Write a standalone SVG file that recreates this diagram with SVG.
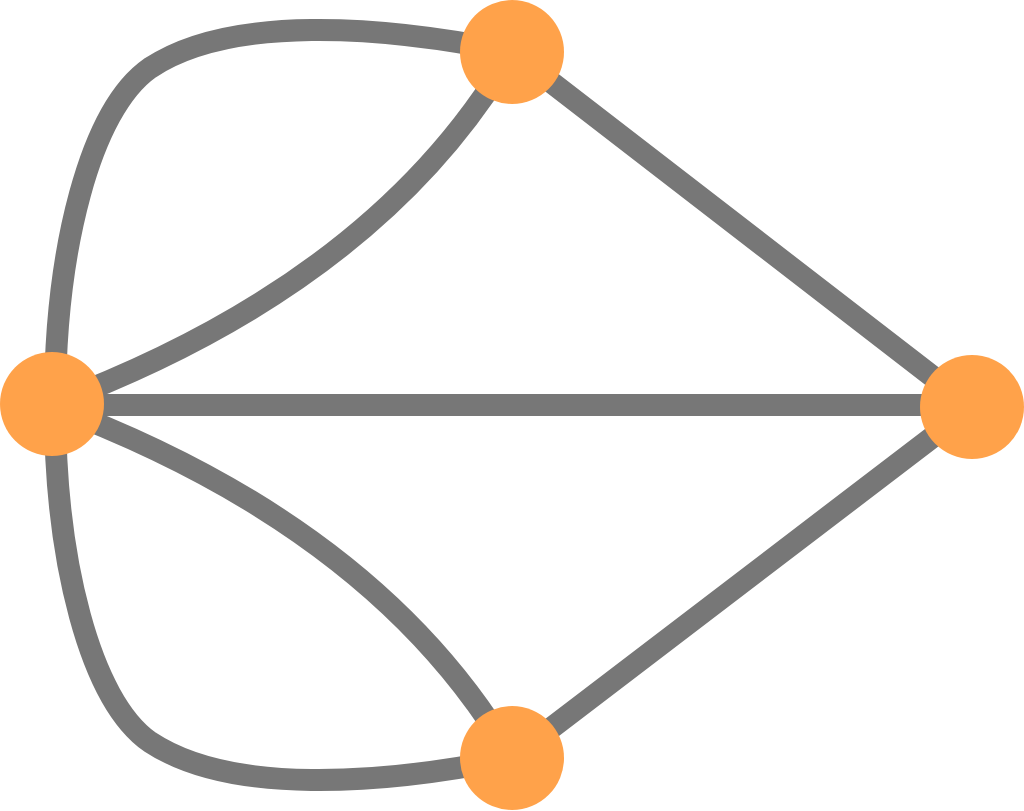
<svg xmlns="http://www.w3.org/2000/svg" width="1024" height="811" viewBox="0 0 1024 811">
<style>
.e{fill:none;stroke:#777777;stroke-width:22;stroke-linecap:round}
.n{fill:#FFA24A}
</style>
<rect width="1024" height="811" fill="#FFFFFF"/>
<g id="edges">
<path class="e" d="M52,405 L972,405"/>
<path class="e" d="M512,52 L972,407"/>
<path class="e" d="M512,758 L972,407"/>
<path class="e" d="M52,404 Q378,282 512,52"/>
<path class="e" d="M52,406 Q378,528 512,758"/>
<path class="e" d="M55,404 C55,250 90,110 150,68 C230,15 380,25 512,52"/>
<path class="e" d="M55,406 C55,560 90,700 150,742 C230,795 380,785 512,758"/>
</g>
<g id="node-left"><circle class="n" cx="52" cy="404" r="52"/></g>
<g id="node-top"><circle class="n" cx="512" cy="52" r="52"/></g>
<g id="node-right"><circle class="n" cx="972" cy="407" r="52"/></g>
<g id="node-bottom"><circle class="n" cx="512" cy="758" r="52"/></g>
</svg>
